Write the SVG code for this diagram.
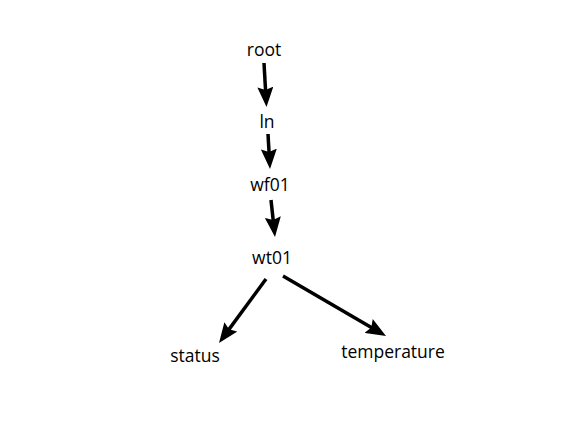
<svg xmlns="http://www.w3.org/2000/svg" width="574" height="436" viewBox="0 0 574 436">
<style>
text{font-family:"Open Sans","Noto Sans","DejaVu Sans",sans-serif;font-size:17.5px;fill:#000;text-anchor:middle}
.e{stroke:#000;stroke-width:3.5;fill:none;marker-end:url(#ah)}
</style>
<defs>
<marker id="ah" markerUnits="userSpaceOnUse" markerWidth="20" markerHeight="16" refX="14" refY="8" orient="auto" viewBox="0 0 20 16">
<path d="M0,0 L20,8 L0,16 L3,8 Z" fill="#000"/>
</marker>
</defs>
<rect width="574" height="436" fill="#fff"/>
<g id="edges">
<path class="e" d="M264,63 L266.16,101.01"/>
<path class="e" d="M268,134 L269.66,163.01"/>
<path class="e" d="M271,200 L274.36,231.03"/>
<path class="e" d="M266,279 L222.55,338.16"/>
<path class="e" d="M283,276 L380.82,332.98"/>
</g>
<g id="root"><text x="264" y="56">root</text></g>
<g id="ln"><text x="267" y="128">ln</text></g>
<g id="wf01"><text x="270" y="191">wf01</text></g>
<g id="wt01"><text x="272" y="264">wt01</text></g>
<g id="status"><text x="195" y="362">status</text></g>
<g id="temperature"><text x="393" y="358">temperature</text></g>
</svg>
